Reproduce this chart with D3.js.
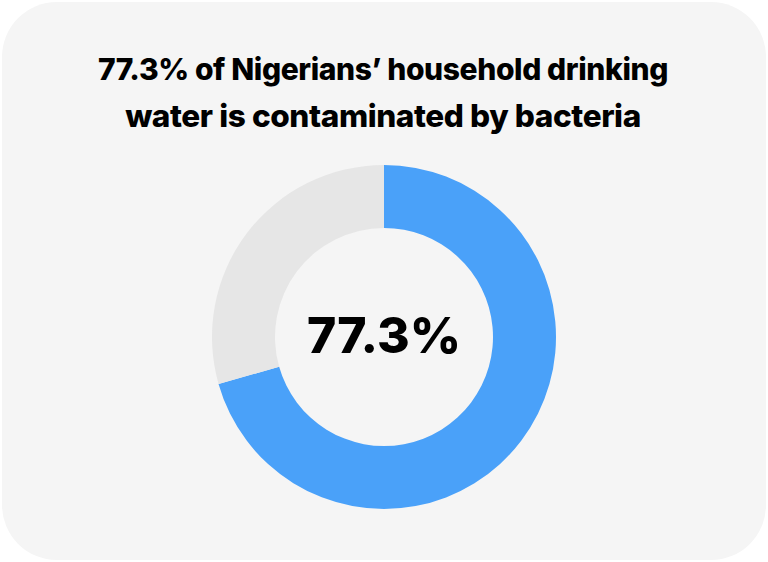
<!DOCTYPE html>
<html>
<head>
<meta charset="utf-8">
<script src="https://cdn.jsdelivr.net/npm/d3@7"></script>
<style>
  html, body { margin: 0; padding: 0; background: #fff; }
  #chart { width: 768px; height: 562px; }
</style>
</head>
<body>
<div id="chart"></div>
<script>
// Data
const titleLines = ["77.3% of Nigerians\u2019 household drinking", "water is contaminated by bacteria"];
const centerLabel = "77.3%";
const sliceNames = ["Contaminated", "Other"];
// slice shares as the arcs are drawn in the reference (boundary ~254deg)
const sliceValues = [70.6, 29.4];
const sliceColors = ["#4aa1f9", "#e6e6e6"];

const width = 768, height = 562;

const svg = d3.select('#chart').append('svg')
    .attr('width', width)
    .attr('height', height);

// Card background
svg.append('rect')
    .attr('x', 2).attr('y', 2)
    .attr('width', 764).attr('height', 558)
    .attr('rx', 55).attr('ry', 55)
    .attr('fill', '#f5f5f5');

// shrink/grow font so the text spans the measured width
const fitText = (sel, target) => {
    const w = sel.node().getComputedTextLength();
    const fs = parseFloat(sel.style('font-size'));
    sel.style('font-size', (fs * target / w) + 'px');
};

// Title
const title = svg.append('g');
const titleWidths = [569, 514];
const titleBase = [80, 127];
titleLines.forEach((t, i) => {
    const txt = title.append('text')
        .attr('x', 383)
        .attr('y', titleBase[i])
        .attr('text-anchor', 'middle')
        .style('font-family', 'Inter, "Noto Sans", sans-serif')
        .style('font-weight', 800)
        .style('font-size', '28px')
        .style('letter-spacing', '-0.4px')
        .style('fill', '#000')
        .text(t);
    fitText(txt, titleWidths[i]);
});

// Donut
const cx = 384, cy = 337;
const outerR = 172, innerR = 109;

const pie = d3.pie()
    .sort(null)
    .value(d => d.value);

const arc = d3.arc()
    .innerRadius(innerR)
    .outerRadius(outerR);

const slices = sliceNames.map((n, i) => ({ name: n, value: sliceValues[i], color: sliceColors[i] }));

const g = svg.append('g')
    .attr('transform', `translate(${cx},${cy})`);

g.selectAll('path')
    .data(pie(slices))
    .enter().append('path')
    .attr('d', arc)
    .attr('fill', d => d.data.color);

const center = g.append('text')
    .attr('x', 0)
    .attr('y', 16)
    .attr('text-anchor', 'middle')
    .style('font-family', 'Inter, Roboto, sans-serif')
    .style('font-weight', 800)
    .style('font-size', '57px')
    .style('fill', '#000')
    .text(centerLabel);
fitText(center, 154);
</script>
</body>
</html>
